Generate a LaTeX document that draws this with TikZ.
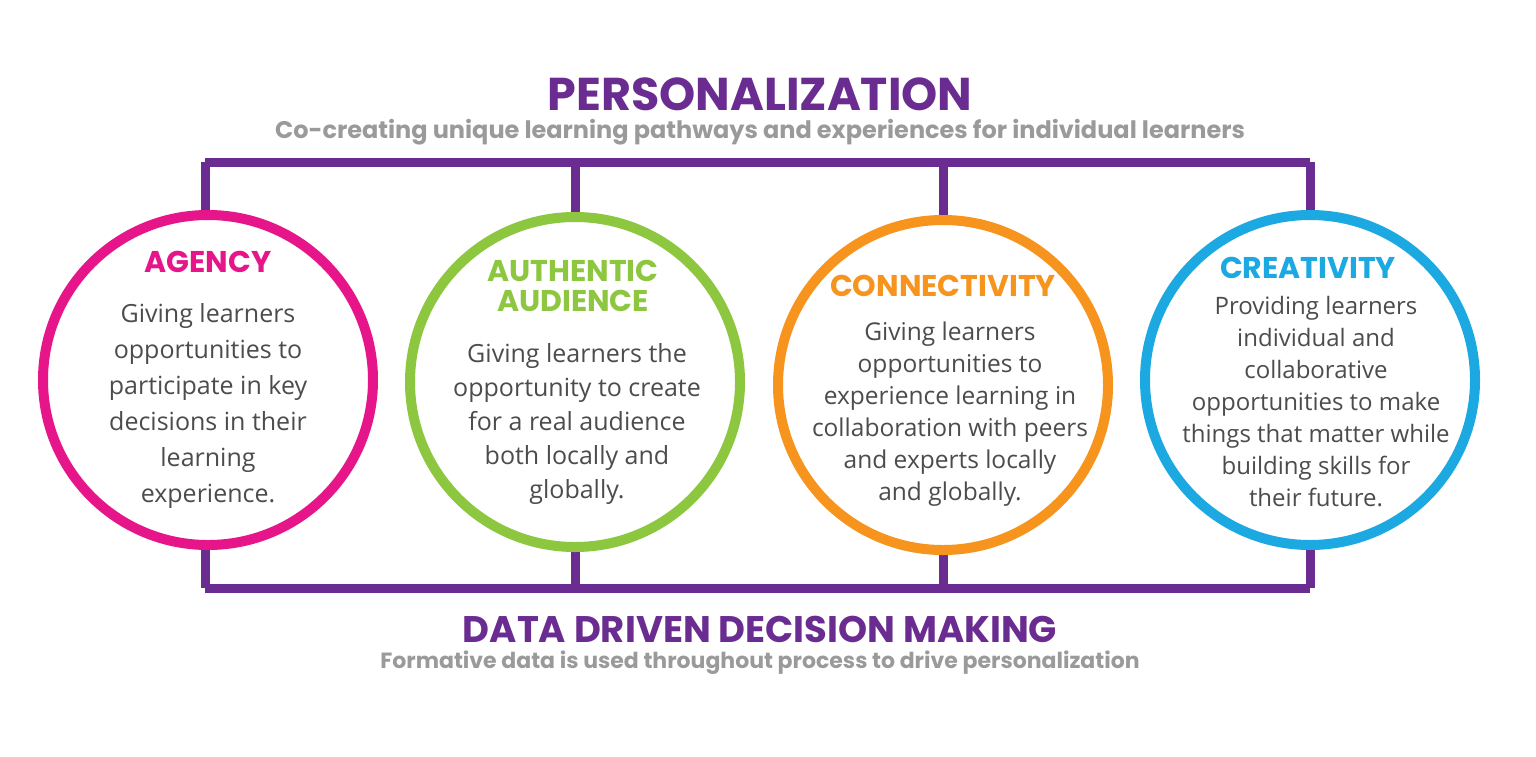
\documentclass[tikz,border=0pt]{standalone}
\usepackage{fontspec}
\setmainfont{Poppins}
\newfontfamily\bodyf{Open Sans}
\definecolor{pur}{HTML}{6A2C91}
\definecolor{mag}{HTML}{E6168A}
\definecolor{grn}{HTML}{8DC63F}
\definecolor{org}{HTML}{F7941D}
\definecolor{blu}{HTML}{1CA9E1}
\definecolor{gry}{HTML}{9A9A9A}
\begin{document}
\begin{tikzpicture}[x=1pt,y=-1pt,
  ring/.style={draw=#1,line width=10pt,fill=white,circle,minimum size=330pt},
  bar/.style={draw=pur,line width=9pt},
  ttl/.style={text=#1,font=\fontsize{30}{30}\selectfont\bfseries,align=center},
  body/.style={font=\bodyf\fontsize{25}{36}\selectfont,text=black!70,align=center}]
\useasboundingbox (0,0) rectangle (1536,756);
\coordinate (t1) at (205,162); \coordinate (t2) at (575,162);
\coordinate (t3) at (943,162); \coordinate (t4) at (1310,162);
\coordinate (b1) at (205,588); \coordinate (b2) at (575,588);
\coordinate (b3) at (943,588); \coordinate (b4) at (1310,588);
\draw[bar] (t1)--(t4);
\draw[bar] (b1)--(b4);
\foreach \i in {1,...,4}{\draw[bar] (t\i)--(b\i);}
\node[ring=mag] (c1) at (208,380) {};
\node[ring=grn] (c2) at (575,382) {};
\node[ring=org] (c3) at (943,385) {};
\node[ring=blu] (c4) at (1310,380) {};
\node[text=pur,font=\fontsize{46}{46}\selectfont\bfseries,inner sep=0pt] (h1) at (760,94) {PERSONALIZATION};
\node[text=gry,font=\fontsize{24}{24}\selectfont\bfseries,inner sep=0pt] (s1) at (760,132) {Co-creating unique learning pathways and experiences for individual learners};
\node[text=pur,font=\fontsize{37}{37}\selectfont\bfseries,inner sep=0pt] (h2) at (760,629) {DATA DRIVEN DECISION MAKING};
\node[text=gry,font=\fontsize{22}{22}\selectfont\bfseries,inner sep=0pt] (s2) at (760,663) {Formative data is used throughout process to drive personalization};
\node[ttl=mag] (a1) at (208,262) {AGENCY};
\node[body] at (208,406) {Giving learners\\opportunities to\\participate in key\\decisions in their\\learning\\experience.};
\node[ttl=grn,font=\fontsize{30}{30}\selectfont\bfseries] (a2) at (573,286) {AUTHENTIC\\AUDIENCE};
\node[body,font=\bodyf\fontsize{25}{34}\selectfont] at (577,424) {Giving learners the\\opportunity to create\\for a real audience\\both locally and\\globally.};
\node[ttl=org] (a3) at (943,286) {CONNECTIVITY};
\node[body,font=\bodyf\fontsize{24.5}{32}\selectfont] at (950,414) {Giving learners\\opportunities to\\experience learning in\\collaboration with peers\\and experts locally\\and globally.};
\node[ttl=blu] (a4) at (1308,268) {CREATIVITY};
\node[body,font=\bodyf\fontsize{24}{32}\selectfont] at (1316,402) {Providing learners\\individual and\\collaborative\\opportunities to make\\things that matter while\\building skills for\\their future.};
\end{tikzpicture}
\end{document}
